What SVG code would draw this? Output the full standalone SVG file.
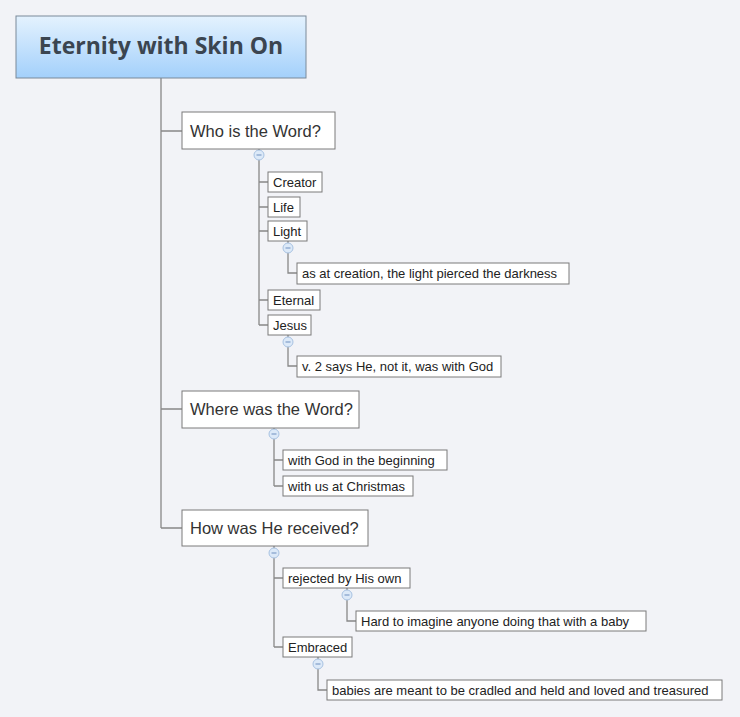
<svg xmlns="http://www.w3.org/2000/svg" width="740" height="717" viewBox="0 0 740 717">
<defs>
<linearGradient id="rg" x1="0" y1="0" x2="0" y2="1"><stop offset="0" stop-color="#e4f2fe"/><stop offset="1" stop-color="#a3d0fb"/></linearGradient>
</defs>
<style>
.b{fill:#fff;stroke:#7a7a7a;stroke-width:1}
.t1{font-family:"Liberation Sans",Arial,sans-serif;font-size:16.5px;fill:#333}
.t2{font-family:"Liberation Sans",Arial,sans-serif;font-size:13px;fill:#222}
.c{fill:none;stroke:#888;stroke-width:1.3}
.k{fill:#dce9f8;stroke:#a8c2e2;stroke-width:1}
.m{stroke:#6f8fbf;stroke-width:1}
</style>
<rect width="740" height="717" fill="#f2f3f7"/>
<g id="connectors">
<path class="c" d="M161 78V528M161 131H182M161 409H182M161 528H182"/>
<path class="c" d="M259 149V325M259 182H268M259 207H268M259 231H268M259 300H268M259 325H268"/>
<path class="c" d="M288 241V273H297M288 335V366H297"/>
<path class="c" d="M274 428V486M274 460H283M274 486H283"/>
<path class="c" d="M274 546V647M274 578H283M274 647H283"/>
<path class="c" d="M347 588V621H356M318 657V690H327"/>
</g>
<g id="toggles">
<circle class="k" cx="259" cy="155" r="5"/><path class="m" d="M256.5 155h5"/>
<circle class="k" cx="288" cy="248" r="5"/><path class="m" d="M285.5 248h5"/>
<circle class="k" cx="288" cy="342" r="5"/><path class="m" d="M285.5 342h5"/>
<circle class="k" cx="274" cy="434" r="5"/><path class="m" d="M271.5 434h5"/>
<circle class="k" cx="274" cy="553" r="5"/><path class="m" d="M271.5 553h5"/>
<circle class="k" cx="347" cy="595" r="5"/><path class="m" d="M344.5 595h5"/>
<circle class="k" cx="318" cy="664" r="5"/><path class="m" d="M315.5 664h5"/>
</g>
<g id="root"><rect x="16" y="16" width="290" height="62" fill="url(#rg)" stroke="#7a8a99"/><text x="161" y="54" text-anchor="middle" font-family="'Open Sans','Liberation Sans',sans-serif" font-weight="bold" font-size="23" fill="#3b4550">Eternity with Skin On</text></g>
<g id="who"><rect class="b" x="182" y="112" width="153" height="37"/><text class="t1" x="190" y="137">Who is the Word?</text></g>
<g id="creator"><rect class="b" x="268" y="172" width="54" height="20"/><text class="t2" x="273" y="187">Creator</text></g>
<g id="life"><rect class="b" x="268" y="197" width="32" height="20"/><text class="t2" x="273" y="212">Life</text></g>
<g id="light"><rect class="b" x="268" y="221" width="39" height="20"/><text class="t2" x="273" y="236">Light</text></g>
<g id="ascreation"><rect class="b" x="297" y="263" width="272" height="21"/><text class="t2" x="302" y="278">as at creation, the light pierced the darkness</text></g>
<g id="eternal"><rect class="b" x="268" y="290" width="52" height="20"/><text class="t2" x="273" y="305">Eternal</text></g>
<g id="jesus"><rect class="b" x="268" y="315" width="43" height="20"/><text class="t2" x="273" y="330">Jesus</text></g>
<g id="v2"><rect class="b" x="297" y="356" width="204" height="21"/><text class="t2" x="302" y="371">v. 2 says He, not it, was with God</text></g>
<g id="where"><rect class="b" x="182" y="391" width="177" height="37"/><text class="t1" x="190" y="415">Where was the Word?</text></g>
<g id="withgod"><rect class="b" x="283" y="450" width="164" height="20"/><text class="t2" x="288" y="465">with God in the beginning</text></g>
<g id="withus"><rect class="b" x="283" y="476" width="130" height="20"/><text class="t2" x="288" y="491">with us at Christmas</text></g>
<g id="how"><rect class="b" x="182" y="510" width="186" height="36"/><text class="t1" x="190" y="534">How was He received?</text></g>
<g id="rejected"><rect class="b" x="283" y="568" width="127" height="20"/><text class="t2" x="288" y="583">rejected by His own</text></g>
<g id="hard"><rect class="b" x="356" y="611" width="290" height="20"/><text class="t2" x="361" y="626">Hard to imagine anyone doing that with a baby</text></g>
<g id="embraced"><rect class="b" x="283" y="637" width="69" height="20"/><text class="t2" x="288" y="652">Embraced</text></g>
<g id="babies"><rect class="b" x="327" y="680" width="395" height="20"/><text class="t2" x="332" y="695">babies are meant to be cradled and held and loved and treasured</text></g>
</svg>
